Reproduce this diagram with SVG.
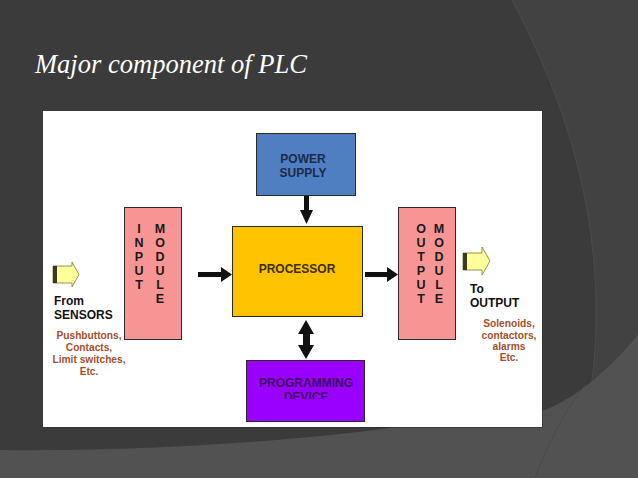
<svg xmlns="http://www.w3.org/2000/svg" width="638" height="478" viewBox="0 0 638 478">
<defs>
<style>
.b{font-family:"Liberation Sans",Arial,sans-serif;font-weight:bold;}
.lbl{font-size:12px;text-anchor:middle;}
.mod{font-size:12.5px;fill:#1a1a1a;text-anchor:middle;}
.br{font-size:10.2px;fill:#a5502a;text-anchor:middle;}
.bx{stroke:#2a2a2a;stroke-width:1;}
.blk{fill:#111;}
.ya{fill:#ffff99;stroke:#7a7a40;stroke-width:0.8;}
</style>
<clipPath id="devclip"><rect x="240" y="360" width="130" height="39"/></clipPath>
</defs>
<rect width="638" height="478" fill="#3b3b3b"/>
<path d="M512,0 C560,90 600,200 596,330 C594,390 585,420 575,478 L638,478 L638,0 Z" fill="#424242"/>
<path d="M512,0 C560,90 600,200 596,330 C594,390 585,420 575,478" fill="none" stroke="#4a4a4a" stroke-width="1.2"/>
<path d="M0,450 C150,452 300,440 390,428 L545,410 C580,396 612,366 638,335 L638,478 L0,478 Z" fill="#525252"/>
<path d="M535,478 C550,440 565,410 585,385" fill="none" stroke="#4a4a4a" stroke-width="1"/>
<text x="35" y="73" font-family="'Liberation Serif',serif" font-style="italic" font-size="27" fill="#ffffff" textLength="272" lengthAdjust="spacingAndGlyphs">Major component of PLC</text>
<rect x="44" y="112" width="499" height="316" fill="#2e2e2e" opacity="0.6"/>
<rect x="43" y="111" width="499" height="316" fill="#ffffff"/>

<g id="connectors">
<polygon class="blk" points="304,196 309,196 309,210 313,210 306.5,224 300,210 304,210"/>
<polygon class="blk" points="198,272 221,272 221,267 232,274.5 221,282 221,277 198,277"/>
<polygon class="blk" points="365,272 387,272 387,267 398,274.5 387,282 387,277 365,277"/>
<polygon class="blk" points="306,320 314,334 310,334 310,345 314,345 306,359 298,345 303,345 303,334 298,334"/>
</g>

<g id="power-supply">
<rect class="bx" x="256.5" y="133.5" width="99" height="62" fill="#4f7fc0"/>
<text class="b lbl" x="303" y="163" fill="#1b2a48">POWER</text>
<text class="b lbl" x="303" y="177" fill="#1b2a48">SUPPLY</text>
</g>

<g id="processor">
<rect class="bx" x="232.5" y="226.5" width="130" height="90" fill="#ffc300"/>
<text class="b lbl" x="297" y="273" fill="#3a2c05">PROCESSOR</text>
</g>

<g id="programming-device">
<rect class="bx" x="246.5" y="360.5" width="118" height="61" fill="#9a00ff"/>
<text class="b lbl" x="306" y="387" fill="#3c0a60">PROGRAMMING</text>
<text class="b lbl" x="306" y="401" fill="#3c0a60" clip-path="url(#devclip)">DEVICE</text>
</g>

<g id="input-module">
<rect class="bx" x="124.5" y="207.5" width="57" height="132" fill="#f79494"/>
<text class="b mod"><tspan x="139" y="233">I</tspan><tspan x="139" y="247">N</tspan><tspan x="139" y="261">P</tspan><tspan x="139" y="275">U</tspan><tspan x="139" y="289">T</tspan></text>
<text class="b mod"><tspan x="160" y="233">M</tspan><tspan x="160" y="247">O</tspan><tspan x="160" y="261">D</tspan><tspan x="160" y="275">U</tspan><tspan x="160" y="289">L</tspan><tspan x="160" y="303">E</tspan></text>
</g>

<g id="output-module">
<rect class="bx" x="398.5" y="207.5" width="57" height="132" fill="#f79494"/>
<text class="b mod"><tspan x="421" y="233">O</tspan><tspan x="421" y="247">U</tspan><tspan x="421" y="261">T</tspan><tspan x="421" y="275">P</tspan><tspan x="421" y="289">U</tspan><tspan x="421" y="303">T</tspan></text>
<text class="b mod"><tspan x="439" y="233">M</tspan><tspan x="439" y="247">O</tspan><tspan x="439" y="261">D</tspan><tspan x="439" y="275">U</tspan><tspan x="439" y="289">L</tspan><tspan x="439" y="303">E</tspan></text>
</g>

<g id="from-sensors">
<polygon class="ya" points="53,266 72,266 72,262 79,274.5 72,287 72,283 53,283"/>
<rect x="53" y="266" width="4" height="17" fill="#3a3a20"/>
<text class="b" font-size="12" fill="#111" x="54" y="305">From</text>
<text class="b" font-size="12" fill="#111" x="54" y="319">SENSORS</text>
<text class="b br" x="89" y="339">Pushbuttons,</text>
<text class="b br" x="89" y="351">Contacts,</text>
<text class="b br" x="89" y="363">Limit switches,</text>
<text class="b br" x="89" y="375">Etc.</text>
</g>

<g id="to-output">
<polygon class="ya" points="463,253 482,253 482,247 490,261 482,275 482,270 463,270"/>
<rect x="463" y="253" width="4" height="17" fill="#3a3a20"/>
<text class="b" font-size="12" fill="#111" x="470" y="293">To</text>
<text class="b" font-size="12" fill="#111" x="470" y="307">OUTPUT</text>
<text class="b br" x="509" y="327">Solenoids,</text>
<text class="b br" x="509" y="339">contactors,</text>
<text class="b br" x="509" y="350">alarms</text>
<text class="b br" x="509" y="361">Etc.</text>
</g>
</svg>
